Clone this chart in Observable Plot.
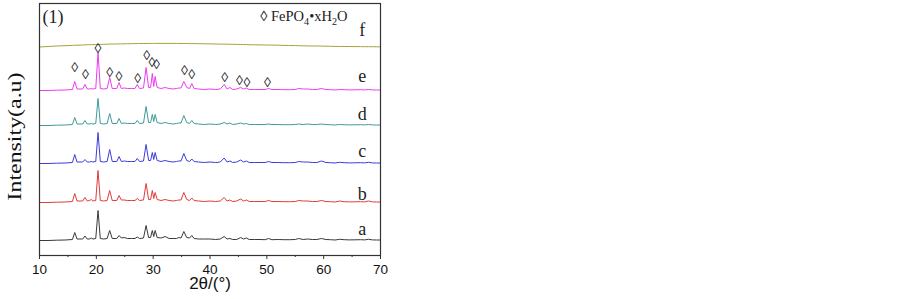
<!DOCTYPE html>
<html><head><meta charset="utf-8">
<script src="https://cdn.jsdelivr.net/npm/d3@7"></script>
<script src="https://cdn.jsdelivr.net/npm/@observablehq/plot@0.6"></script>
<style>html,body{margin:0;padding:0;background:#fff;} #chart svg{display:block;}</style>
</head><body><div id="chart"></div>
<script>
// 2θ sampling (degrees)
const twoTheta = [
  10, 11.5, 13, 14.5, 15.8, 16.2, 16.6, 17.6, 18.0, 18.4,
  18.8, 19.1, 19.4, 19.9, 20.3, 20.7, 21.3, 21.9, 22.35, 22.8,
  23.6, 24.0, 24.4, 24.9, 25.5, 26.2, 26.8, 27.2, 27.6, 28.3,
  28.75, 29.2, 29.55, 29.85, 30.1, 30.35, 30.7, 31.4, 32.1, 32.8,
  33.5, 34.1, 34.5, 34.9, 35.4, 35.9, 36.4, 36.8, 37.2, 38.0,
  39.0, 40.0, 41.0, 41.8, 42.5, 43.0, 43.5, 44.0, 44.7, 45.4,
  45.9, 46.4, 46.9, 47.8, 48.8, 49.7, 50.3, 50.9, 52.0, 53.0,
  54.0, 55.0, 55.6, 56.4, 57.2, 58.0, 58.8, 59.6, 60.4, 61.2,
  62.0, 62.8, 63.6, 64.5, 65.5, 66.5, 67.2, 67.9, 68.6, 69.3, 70
];
const intensityA = [
  0, 0, 0.3, 0.5, 1, 8, 1.5, 1.5, 4.5, 1.5,
  1.5, 2.5, 1.5, 2, 30, 2, 1.5, 2, 10, 2,
  2, 5, 2.5, 3, 2, 2, 2, 3.5, 2, 2.5,
  15, 3, 3, 10, 4, 10, 3, 2.5, 4, 2,
  2, 2, 3, 2.5, 9, 3, 2.5, 5, 2, 1.5,
  1.5, 1.5, 1, 1.5, 4, 1.5, 2, 1, 1, 3,
  1.5, 2.5, 1, 1, 1, 0.8, 2, 0.8, 1, 0.8,
  0.8, 1, 2, 1, 1.5, 1, 1, 2, 1, 0.8,
  0.5, 1.2, 0.8, 0.6, 0.7, 0.8, 0.6, 1.2, 0.6, 0.5, 0.5
];
const intensityB = [
  0, 0, 0.3, 0.5, 1, 9, 1.5, 1.5, 5, 1.5,
  2, 3, 1.5, 2, 32, 2, 1.5, 2, 12, 2,
  2, 7, 2.5, 2.5, 2, 2, 2, 4, 2, 2.5,
  19, 3, 3, 12, 4, 10, 3, 2, 3, 2,
  1.5, 2, 2.5, 2.5, 10, 3, 2, 4.5, 2, 1.5,
  1, 1.5, 1, 1.5, 5, 1.5, 2.5, 1, 1.5, 3.5,
  1.5, 2.5, 1, 1, 1, 1, 2, 1, 1, 0.8,
  0.8, 1, 2, 1.5, 1.5, 1, 1, 2, 1, 0.8,
  0.5, 1.5, 0.8, 0.6, 0.7, 0.8, 0.6, 1.5, 0.6, 0.5, 0.5
];
const intensityC = [
  0, 0, 0.3, 0.5, 1, 9, 1.5, 1.5, 4, 1.5,
  1.5, 2, 1.5, 2, 31, 2, 1.5, 2, 14, 2,
  2, 7, 2, 2.5, 2, 2, 2, 5, 2, 2.5,
  19, 3, 3, 11, 4, 11, 3, 2, 3, 2,
  1.5, 2, 2.5, 2.5, 10, 3, 2, 4.5, 2, 1.5,
  1, 1.5, 1, 1.5, 5.5, 1.5, 2.5, 1, 1.5, 3.5,
  1.5, 2.5, 1, 1, 1, 1, 2, 1, 1, 0.8,
  0.8, 1, 2, 1.5, 1.5, 1, 1, 2.5, 1, 0.8,
  0.5, 1.2, 0.8, 0.6, 0.7, 0.8, 0.6, 1.2, 0.6, 0.5, 0.5
];
const intensityD = [
  0, 0, 0.3, 0.5, 1, 8, 1.5, 1.5, 5, 1.5,
  1.5, 2, 1.5, 2, 27, 2, 1.5, 2, 12, 2,
  2, 7, 2, 2.5, 2, 2, 2, 5, 2, 2.5,
  19, 3, 3, 11, 4, 11, 3, 2, 3, 2,
  1.5, 2, 2.5, 2.5, 10, 3, 2, 5, 2, 1.5,
  1, 1.5, 1, 1.5, 3, 1.5, 2.5, 1, 1.5, 2.5,
  1.5, 2, 1, 1, 1, 1, 1.5, 1, 1, 0.8,
  0.8, 1, 1.5, 1, 1.5, 1, 1, 1.5, 1, 0.8,
  0.5, 1, 0.8, 0.6, 0.7, 0.8, 0.6, 1, 0.6, 0.5, 0.5
];
const intensityE = [
  0, 0, 0.3, 0.5, 1, 9, 1.5, 1.5, 6, 1.5,
  1.5, 2, 1.5, 2, 38, 2, 1.5, 2, 13, 2,
  2, 8, 2, 2.5, 2, 2, 2, 6, 2, 2.5,
  23, 3, 3, 17, 4, 14, 3, 2, 3, 2,
  1.5, 2, 2.5, 2.5, 9, 3, 2, 7, 2, 1.5,
  1, 1.5, 1, 1.5, 6, 1.5, 3, 1, 1.5, 3,
  1.5, 2.5, 1, 1, 1, 1, 2, 1, 1, 0.8,
  0.8, 1, 2, 1.5, 1.5, 1, 1, 2, 1, 0.8,
  0.5, 1, 0.8, 0.6, 0.7, 0.8, 0.6, 1, 0.6, 0.5, 0.5
];
const intensityF = [
  0, 0.5, 1, 1.3, 1.6, 1.7, 1.8, 2, 2.1, 2.2,
  2.3, 2.3, 2.4, 2.5, 2.5, 2.6, 2.7, 2.8, 2.9, 3,
  3, 3.1, 3.1, 3.2, 3.3, 3.3, 3.4, 3.4, 3.5, 3.5,
  3.5, 3.6, 3.6, 3.6, 3.6, 3.6, 3.6, 3.6, 3.6, 3.6,
  3.6, 3.6, 3.6, 3.5, 3.5, 3.5, 3.4, 3.4, 3.4, 3.3,
  3.2, 3.1, 3, 2.9, 2.9, 2.8, 2.8, 2.7, 2.6, 2.5,
  2.5, 2.4, 2.3, 2.2, 2.1, 2, 2, 1.9, 1.8, 1.6,
  1.5, 1.4, 1.3, 1.2, 1.1, 1.0, 1.0, 0.9, 0.8, 0.7,
  0.6, 0.6, 0.5, 0.5, 0.4, 0.4, 0.3, 0.3, 0.3, 0.2, 0.2
];
const seriesNames = ["a", "b", "c", "d", "e", "f"];
const seriesColors = ["#3a3a3a", "#e23b3b", "#3c3cdc", "#3f9a9a", "#ee3cee", "#a3a33a"];
const stackOffset = [15, 53, 92, 130, 165, 208.5];
const seriesLabelLevel = [21, 55.7, 99, 135.7, 174, 220];
const seriesLabelTheta = 66.8;
// FePO4·xH2O reflections marked on pattern e
const markTheta = [16.2, 18.1, 20.3, 22.35, 24.0, 27.3, 28.85, 29.8, 30.6, 35.5, 36.8, 42.6, 45.2, 46.5, 50.1];
const markLevel = [187.7, 180.7, 207.3, 182.7, 179.3, 177.3, 200, 192.7, 190.7, 185, 180.7, 177.7, 175, 173.3, 173.3];
const majorTicks = [10, 20, 30, 40, 50, 60, 70];
const minorTicks = [15, 25, 35, 45, 55, 65];
const xTitle = "2θ/(°)";
const yTitle = "Intensity(a.u)";
const panelTag = "(1)";
const legendParts = [["◊ FePO", false], ["4", true], ["•xH", false], ["2", true], ["O", false]];
const legendText = legendParts.map(p => p[0]).join("");

const intensities = [intensityA, intensityB, intensityC, intensityD, intensityE, intensityF];
const rows = seriesNames.flatMap((s, k) =>
  twoTheta.map((t, i) => ({theta: t, intensity: intensities[k][i] + stackOffset[k], series: s})));
const labelRows = seriesNames.map((s, k) => ({theta: seriesLabelTheta, level: seriesLabelLevel[k], name: s}));
const markRows = markTheta.map((t, i) => ({theta: t, level: markLevel[i]}));

const serif = "'Liberation Serif', 'Times New Roman', serif";
const sans = "'Liberation Sans', Arial, sans-serif";

const chart = Plot.plot({
  width: 903, height: 299,
  marginLeft: 39, marginRight: 523, marginTop: 3, marginBottom: 44,
  style: {background: "#fff", color: "#222", fontFamily: sans},
  x: {domain: [10, 70], label: null},
  y: {domain: [0, 252], axis: null},
  color: {domain: seriesNames, range: seriesColors},
  marks: [
    Plot.line(rows, {x: "theta", y: "intensity", z: "series", stroke: "series", strokeWidth: 1}),
    Plot.text(markRows, {x: "theta", y: "level", text: () => "◊", fontFamily: serif, fontSize: 14, lineAnchor: "middle", fill: "#222"}),
    Plot.text(labelRows, {x: "theta", y: "level", text: "name", fontFamily: serif, fontSize: 18, lineAnchor: "bottom", textAnchor: "middle", fill: "#222"}),
    Plot.text([legendText], {frameAnchor: "top-right", dx: -33, dy: 17.7, textAnchor: "end", lineAnchor: "bottom", fontFamily: serif, fontSize: 14.5, fill: "#222"}),
    Plot.text([panelTag], {frameAnchor: "top-left", dx: 3, dy: 19, textAnchor: "start", lineAnchor: "bottom", fontFamily: serif, fontSize: 18, fill: "#222"}),
    Plot.axisX(majorTicks, {tickSize: 4, tickPadding: 5, fontSize: 13.5, fontFamily: sans, label: null, stroke: "#333", fill: "#111"}),
    Plot.axisX(minorTicks, {tickSize: 2, tickFormat: () => "", label: null, stroke: "#333"}),
    Plot.frame({stroke: "#333", strokeWidth: 1.2}),
    Plot.text([xTitle], {frameAnchor: "bottom", dy: 33, textAnchor: "middle", lineAnchor: "bottom", fontFamily: sans, fontSize: 17, fill: "#111"}),
    Plot.text([yTitle], {frameAnchor: "left", rotate: -90, dx: -24, dy: 7, textAnchor: "middle", lineAnchor: "middle", fontFamily: serif, fontSize: 18, fill: "#111"})
  ]
});
document.getElementById("chart").appendChild(chart);

const svg = d3.select(chart);
svg.selectAll("text").filter(function () { return this.textContent === legendText; }).each(function () {
  const t = d3.select(this);
  t.text(null);
  legendParts.forEach(([s, sub], i) => {
    const ts = t.append("tspan").text(s);
    if (sub) ts.attr("font-size", "70%").attr("dy", 3.5);
    else if (i > 0 && legendParts[i - 1][1]) ts.attr("dy", -3.5);
  });
});
svg.selectAll("text").filter(function () { return this.textContent === yTitle; })
  .attr("textLength", 128).attr("lengthAdjust", "spacingAndGlyphs");
</script>
</body></html>
